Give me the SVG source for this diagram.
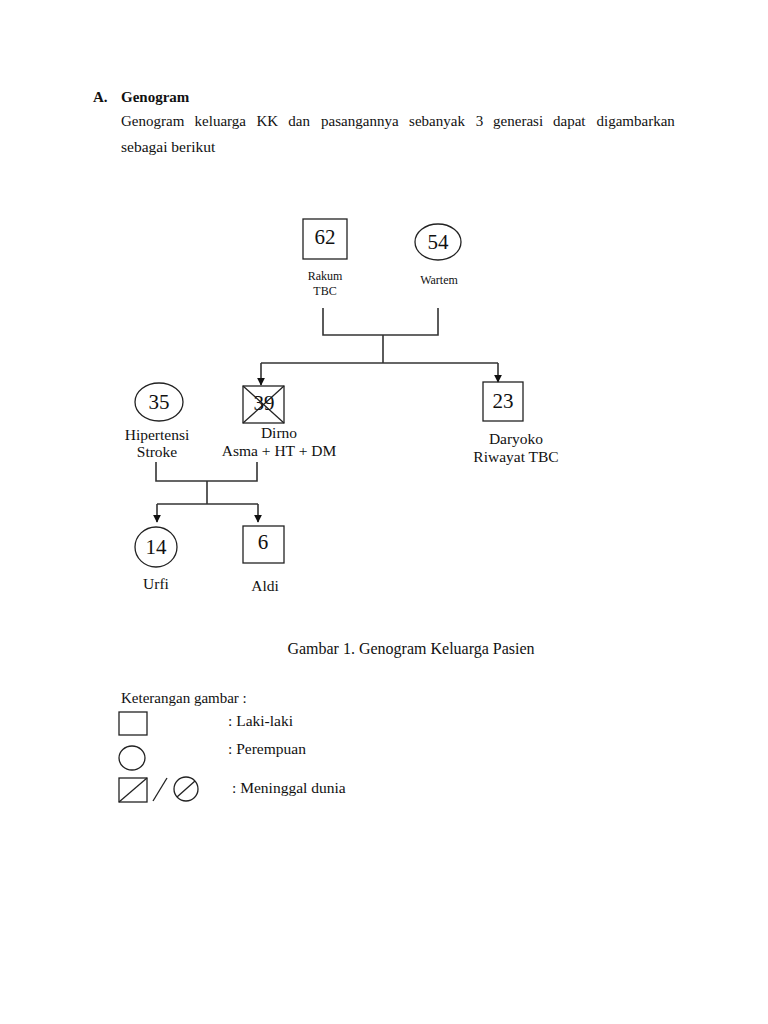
<svg xmlns="http://www.w3.org/2000/svg" width="768" height="1024" viewBox="0 0 768 1024">
<style>
  text { font-family: "Liberation Serif", "Times New Roman", serif; fill: #111; }
  .t14 { font-size: 15.5px; }
  .t15 { font-size: 15px; }
  .t11 { font-size: 12px; }
  .num { font-size: 21px; text-anchor: middle; }
  .c { text-anchor: middle; }
  .shape { fill: none; stroke: #222; stroke-width: 1.3; }
  .line { fill: none; stroke: #333; stroke-width: 1.6; }
</style>
<defs>
  <marker id="arr" viewBox="0 0 10 10" refX="9" refY="5" markerWidth="8" markerHeight="8" orient="auto" markerUnits="userSpaceOnUse">
    <path d="M0,0 L10,5 L0,10 z" fill="#111"/>
  </marker>
</defs>
<rect width="768" height="1024" fill="#fff"/>

<g id="header">
  <text x="93" y="102" class="t15" font-weight="bold">A.</text>
  <text x="121" y="102" class="t15" font-weight="bold">Genogram</text>
  <text y="126" class="t15"><tspan x="121">Genogram</tspan><tspan x="194.6">keluarga</tspan><tspan x="256.4">KK</tspan><tspan x="288.3">dan</tspan><tspan x="321.1">pasangannya</tspan><tspan x="409.1">sebanyak</tspan><tspan x="475.7">3</tspan><tspan x="493.1">generasi</tspan><tspan x="553">dapat</tspan><tspan x="596.5">digambarkan</tspan></text>
  <text x="121" y="152" class="t14">sebagai berikut</text>
</g>

<g id="connectors">
  <polyline class="line" points="323,308 323,335 438,335 438,308"/>
  <line class="line" x1="383" y1="335" x2="383" y2="363"/>
  <line class="line" x1="261" y1="363" x2="498" y2="363"/>
  <line class="line" x1="261" y1="363" x2="261" y2="385" marker-end="url(#arr)"/>
  <line class="line" x1="498" y1="363" x2="498" y2="382" marker-end="url(#arr)"/>
  <polyline class="line" points="156,462 156,481 257,481 257,462"/>
  <line class="line" x1="207" y1="481" x2="207" y2="504"/>
  <line class="line" x1="157" y1="504" x2="258" y2="504"/>
  <line class="line" x1="157" y1="504" x2="157" y2="522" marker-end="url(#arr)"/>
  <line class="line" x1="258" y1="504" x2="258" y2="522" marker-end="url(#arr)"/>
</g>

<g id="node-rakum">
  <rect class="shape" x="303" y="219" width="44" height="40"/>
  <text x="325" y="244" class="num">62</text>
  <text x="325" y="280" class="t11 c">Rakum</text>
  <text x="325" y="295" class="t11 c">TBC</text>
</g>

<g id="node-wartem">
  <ellipse class="shape" cx="438" cy="242" rx="23" ry="18"/>
  <text x="438" y="249" class="num">54</text>
  <text x="439" y="284" class="t11 c">Wartem</text>
</g>

<g id="node-35">
  <ellipse class="shape" cx="159" cy="402" rx="24" ry="19"/>
  <text x="159" y="409" class="num">35</text>
  <text x="157" y="440" class="t14 c">Hipertensi</text>
  <text x="157" y="457" class="t14 c">Stroke</text>
</g>

<g id="node-dirno">
  <rect class="shape" x="243" y="386" width="41" height="37"/>
  <line class="shape" x1="243" y1="386" x2="284" y2="423"/>
  <line class="shape" x1="284" y1="386" x2="243" y2="423"/>
  <text x="264" y="410" class="num">39</text>
  <text x="279" y="438" class="t14 c">Dirno</text>
  <text x="279" y="456" class="t14 c">Asma + HT + DM</text>
</g>

<g id="node-daryoko">
  <rect class="shape" x="483" y="382" width="40" height="39"/>
  <text x="503" y="408" class="num">23</text>
  <text x="516" y="444" class="t14 c">Daryoko</text>
  <text x="516" y="462" class="t14 c">Riwayat TBC</text>
</g>

<g id="node-urfi">
  <ellipse class="shape" cx="156" cy="547" rx="21" ry="20"/>
  <text x="156" y="554" class="num">14</text>
  <text x="156" y="589" class="t14 c">Urfi</text>
</g>

<g id="node-aldi">
  <rect class="shape" x="243" y="526" width="41" height="37"/>
  <text x="263" y="549" class="num">6</text>
  <text x="265" y="591" class="t14 c">Aldi</text>
</g>

<g id="caption">
  <text x="411" y="654" class="c" font-size="16">Gambar 1. Genogram Keluarga Pasien</text>
</g>

<g id="legend">
  <text x="121" y="703" class="t15">Keterangan gambar :</text>
  <rect class="shape" x="119" y="712" width="28" height="23"/>
  <text x="228" y="726" class="t14">: Laki-laki</text>
  <ellipse class="shape" cx="132" cy="758" rx="13" ry="12"/>
  <text x="228" y="754" class="t14">: Perempuan</text>
  <rect class="shape" x="119" y="778" width="28" height="24"/>
  <line class="shape" x1="119" y1="802" x2="147" y2="778"/>
  <line class="shape" x1="153" y1="801" x2="167" y2="778"/>
  <circle class="shape" cx="186" cy="789" r="12"/>
  <line class="shape" x1="177" y1="797" x2="195" y2="781"/>
  <text x="232" y="793" class="t14">: Meninggal dunia</text>
</g>
</svg>
